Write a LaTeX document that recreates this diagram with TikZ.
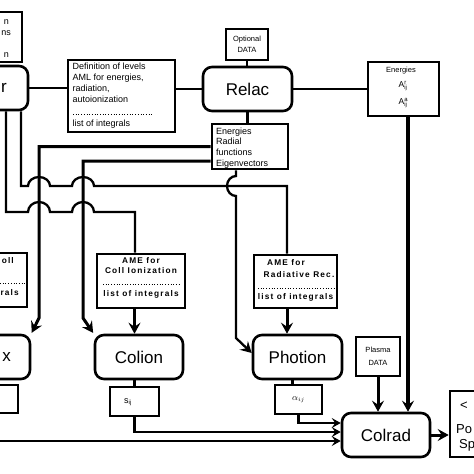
\documentclass[tikz,border=0pt]{standalone}
\usepackage{fontspec}
\setmainfont{Liberation Sans}
\newfontfamily\amefont[LetterSpace=14]{Liberation Sans}
\usetikzlibrary{arrows.meta}
\begin{document}
\begin{tikzpicture}[x=1pt,y=-1pt,
  box/.style={draw,line width=2.6pt,inner sep=0pt},
  rbox/.style={box,rounded corners=9pt},
  conn/.style={line width=2.3pt},
  tconn/.style={line width=3pt},
  arr/.style={-{Stealth[length=11pt,width=12pt,inset=4pt]}},
  arrs/.style={-{Stealth[length=9pt,width=10pt,inset=3.5pt]}},
  small/.style={font=\fontsize{9}{11}\selectfont,inner sep=0pt},
  tiny/.style={font=\fontsize{7.5}{11}\selectfont,inner sep=0pt},
  ame/.style={font=\amefont\bfseries\fontsize{8.3}{10}\selectfont,inner sep=0pt},
  big/.style={font=\fontsize{17}{20}\selectfont},
  dots/.style={dotted,line width=0.7pt},
]
\useasboundingbox (0,0) rectangle (474,474);
\clip (0,0) rectangle (474,474);

% boxes
\node[box,minimum width=42pt,minimum height=50pt] (tl) at (1,37) {};
\node[rbox,minimum width=58pt,minimum height=44pt] (lbox) at (-1,88) {};
\node[box,minimum width=107pt,minimum height=72pt] (defbox) at (121.5,96) {};
\node[rbox,minimum width=89pt,minimum height=44pt,big] (relac) at (247.5,89) {Relac};
\node[box,minimum width=42pt,minimum height=31pt,tiny,align=center] (optdata) at (247,44.5) {Optional\\DATA};
\node[box,minimum width=76pt,minimum height=45pt] (energ) at (250,146.5) {};
\node[box,minimum width=71pt,minimum height=54pt] (enA) at (403.5,89) {};
\node[box,minimum width=67pt,minimum height=54pt] (collbox) at (-6.5,280) {};
\node[box,minimum width=88pt,minimum height=54pt] (ameci) at (141,281) {};
\node[box,minimum width=83pt,minimum height=53pt] (amerr) at (295.5,281.5) {};
\node[rbox,minimum width=70pt,minimum height=44pt] (xbox) at (-5,357) {};
\node[box,minimum width=48pt,minimum height=28pt] (xsmall) at (-6,399) {};
\node[rbox,minimum width=88pt,minimum height=44pt,big] (colion) at (139,357) {Colion};
\node[box,minimum width=49pt,minimum height=29pt] (sij) at (134.5,401.5) {};
\node[rbox,minimum width=89pt,minimum height=44pt,big] (photion) at (297.5,357) {Photion};
\node[box,minimum width=47pt,minimum height=29pt,small] (alpha) at (298.5,399.5) {$\alpha_{ij}$};
\node[box,minimum width=44pt,minimum height=39pt,tiny,align=center,font=\fontsize{7.5}{13}\selectfont] (plasma) at (378,356.5) {Plasma\\DATA};
\node[rbox,minimum width=88pt,minimum height=44pt,big] (colrad) at (386,435) {Colrad};
\node[box,minimum width=52pt,minimum height=66pt] (outbox) at (476,424) {};

% texts
\node[small,anchor=east] (tlt1) at (9,22) {n};
\node[small,anchor=east] (tlt2) at (11,33) {ns};
\node[small,anchor=east] (tlt3) at (9,55) {n};
\node[big,anchor=east,inner sep=0pt] (lboxt) at (7,88) {r};
\node[small,anchor=north west,align=left] (deft) at (72.5,63) {Definition of levels\\AML for energies,\\radiation,\\autoionization};
\draw[dots] (73,114) -- (152,114);
\node[small,anchor=base west] (deft2) at (72.5,126) {list of integrals};
\node[small,anchor=north west,align=left,font=\fontsize{9}{10.7}\selectfont] (energt) at (216,127.5) {Energies\\Radial\\functions\\Eigenvectors};
\node[tiny] (enAt1) at (401,71) {Energies};
\node[small,align=center,font=\fontsize{8.5}{17}\selectfont] (enAt2) at (403,94.5) {A\rlap{\textsuperscript{r}}\textsubscript{ij}\\A\rlap{\textsuperscript{a}}\textsubscript{ij}};
\node[ame,anchor=east] (collt1) at (14,261) {oll};
\draw[dots] (0,283) -- (25,283);
\node[ame,anchor=east] (collt2) at (19,293) {rals};
\node[ame] (amecit1) at (141,261) {AME for};
\node[ame] (amecit2) at (141,271) {Coll Ionization};
\draw[dots] (103,284) -- (180,284);
\node[ame] (amecit3) at (141,294) {list of integrals};
\node[ame] (amerrt1) at (286,263) {AME for};
\node[ame] (amerrt2) at (299,275) {Radiative Rec.};
\draw[dots] (258,288) -- (334,288);
\node[ame] (amerrt3) at (295.5,297) {list of integrals};
\node[big,anchor=east,inner sep=0pt] (xboxt) at (11,357) {x};
\node[small] (sijt) at (128,402) {s\textsubscript{ij}};
\node[anchor=west,inner sep=0pt,font=\fontsize{13}{14}\selectfont] (outt1) at (460,406) {<};
\node[anchor=west,inner sep=0pt,font=\fontsize{13}{14}\selectfont] (outt2) at (456,429) {Po};
\node[anchor=west,inner sep=0pt,font=\fontsize{13}{14}\selectfont] (outt3) at (459,445) {Sp};

% simple connectors
\draw[conn] (lbox.east) -- (lbox.east -| defbox.west);
\draw[conn] (defbox.east |- relac.west) -- (relac.west);
\draw[conn] (optdata.south) -- (optdata.south |- relac.north);
\draw[conn] (relac.south) -- (relac.south |- energ.north);
\draw[conn] (relac.east) -- (relac.east -| enA.west);
\draw[tconn,line width=3.6pt,arr] ([xshift=4.5pt]enA.south) -- ([xshift=4.5pt]enA.south |- colrad.north);
\draw[tconn,arr] (plasma.south) -- (plasma.south |- colrad.north);
\draw[tconn,arr] (colrad.east) -- (colrad.east -| outbox.west);
\draw[conn] (colion.south -| sij.north) -- (sij.north);
\draw[conn] ([xshift=-5pt]photion.south) -- ([xshift=-5pt]photion.south |- alpha.north);
\draw[conn,arrs] (alpha.south) |- ([yshift=12pt]colrad.west);
\draw[conn,arrs] (sij.south) |- ([yshift=3pt]colrad.west);
\draw[conn,arrs] (xsmall.south) |- ([yshift=-6pt]colrad.west);
\draw[tconn,arr] (ameci.south -| sij.north) -- (colion.north -| sij.north);
\draw[tconn,arr] ([xshift=-8.5pt]amerr.south) -- ([xshift=-8.5pt]amerr.south |- photion.north);

% energies distribution lines
\coordinate (p1) at (39,318);
\coordinate (p2) at (83,318);
\coordinate (p3) at (236,338);
\draw[tconn,arr,shorten >=1pt] (energ.west) -| (p1) -- (xbox.north east);
\draw[tconn,arr,shorten >=1pt] ([yshift=-14.5pt]energ.west) -| (p2) -- (colion.north west);
\draw[conn,arr] (energ.south -| p3) -- (236,176)
  arc[start angle=90,end angle=270,x radius=9pt,y radius=10pt] -- (p3) -- ([yshift=4pt]photion.west);

% lines from left box with hops
\coordinate (q1) at (287,186);
\coordinate (q2) at (135,212);
\draw[conn] ([xshift=22pt]lbox.south) -- (21,186) -- (28,186)
  arc[start angle=180,end angle=0,x radius=11pt,y radius=9pt] -- (72,186)
  arc[start angle=180,end angle=0,x radius=11pt,y radius=9pt] -- (q1) -- (q1 |- amerr.north);
\draw[conn] ([xshift=7pt]lbox.south) -- (6,212) -- (28,212)
  arc[start angle=180,end angle=0,x radius=11pt,y radius=10pt] -- (72,212)
  arc[start angle=180,end angle=0,x radius=11pt,y radius=10pt] -- (q2) -- (q2 |- ameci.north);
\end{tikzpicture}
\end{document}
